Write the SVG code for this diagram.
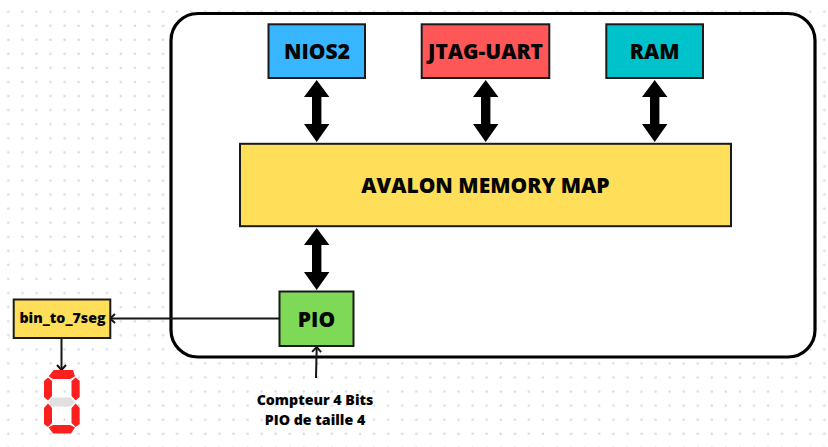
<svg xmlns="http://www.w3.org/2000/svg" width="828" height="447" viewBox="0 0 828 447">
<style>
.box{stroke:#1a1a1a;stroke-width:2}
.t{font-family:"Open Sans","Noto Sans",sans-serif;font-weight:800;fill:#050505;text-anchor:middle}
.big{font-size:21px}
.mid{font-size:21px}
.sm{font-size:14.200px}
.thin{fill:none;stroke:#151515;stroke-width:2}
.red{fill:#fb2020}
</style>
<defs>
<pattern id="dots" x="1" y="4.3" width="14.07" height="14.07" patternUnits="userSpaceOnUse">
<rect x="6" y="6" width="2.6" height="2.6" rx="1" fill="#d9dde8"/>
</pattern>
<path id="dbl" d="M0 0L12.7 17H4.7V44H12.7L0 62L-12.7 44H-4.7V17H-12.7Z" fill="#000"/>
<marker id="open" markerUnits="userSpaceOnUse" markerWidth="12" markerHeight="12" refX="9" refY="6" orient="auto">
<path d="M4 1.5L9 6L4 10.5" fill="none" stroke="#151515" stroke-width="2"/>
</marker>
</defs>
<rect width="828" height="447" fill="#fff"/>
<rect width="828" height="447" fill="url(#dots)"/>
<g id="container"><rect x="171" y="13.500" width="644" height="343.500" rx="27" fill="#fff" stroke="#000" stroke-width="3.200"/></g>
<g id="connectors">
<use href="#dbl" x="316.700" y="80"/>
<use href="#dbl" x="485.700" y="80"/>
<use href="#dbl" x="654.700" y="80"/>
<use href="#dbl" x="316.700" y="228"/>
<line class="thin" x1="280" y1="318.500" x2="110" y2="318.500" marker-end="url(#open)"/>
<line class="thin" x1="61.500" y1="338" x2="61.500" y2="370" marker-end="url(#open)"/>
<line class="thin" x1="316" y1="378" x2="316.700" y2="347" marker-end="url(#open)"/>
</g>
<g id="nios2"><rect class="box" x="268.500" y="24.300" width="96.500" height="53.700" fill="#38b6ff"/><text class="t big" x="317" y="59">NIOS2</text></g>
<g id="jtag-uart"><rect class="box" x="421.700" y="24.300" width="127.600" height="53.700" fill="#ff5757"/><text class="t big" x="485.500" y="59">JTAG-UART</text></g>
<g id="ram"><rect class="box" x="606.300" y="24.300" width="96.700" height="53.700" fill="#00c2cb"/><text class="t big" x="654.700" y="59">RAM</text></g>
<g id="avalon"><rect class="box" x="240" y="143.800" width="491" height="82.400" fill="#ffde59"/><text class="t mid" x="485.500" y="193">AVALON MEMORY MAP</text></g>
<g id="pio"><rect class="box" x="279.500" y="291.500" width="74" height="54.500" fill="#7ed957"/><text class="t big" x="316.500" y="327">PIO</text></g>
<g id="bin_to_7seg"><rect class="box" x="13.700" y="299.500" width="96.600" height="38.500" fill="#ffde59"/><text class="t sm" x="62.500" y="323">bin_to_7seg</text></g>
<g id="seven-seg">
<polygon class="red" points="48.700,376.300 53.700,370 73,370 75,376.300 70.300,379 53,379"/>
<polygon class="red" points="48,377.500 52,381 52,396 48,400.500 44,397 44,381"/>
<polygon class="red" points="75.700,377.500 79.700,381 79.700,397 75.700,400.500 71.500,396 71.500,381"/>
<polygon points="48.500,402 53,397.500 71,397.500 75,402 71,406.500 53,406.500" fill="#e0e0e0"/>
<polygon class="red" points="48,403.500 52,408 52,423 48,427 44,424 44,408"/>
<polygon class="red" points="75.700,403.500 79.700,408 79.700,424 75.700,427 71.500,423 71.500,408"/>
<polygon class="red" points="48.700,427.500 53,425 70.300,425 75,427.500 71,433.500 53,433.500"/>
</g>
<g id="labels"><text class="t sm" x="315" y="405">Compteur 4 Bits</text><text class="t sm" x="315" y="425">PIO de taille 4</text></g>
</svg>
